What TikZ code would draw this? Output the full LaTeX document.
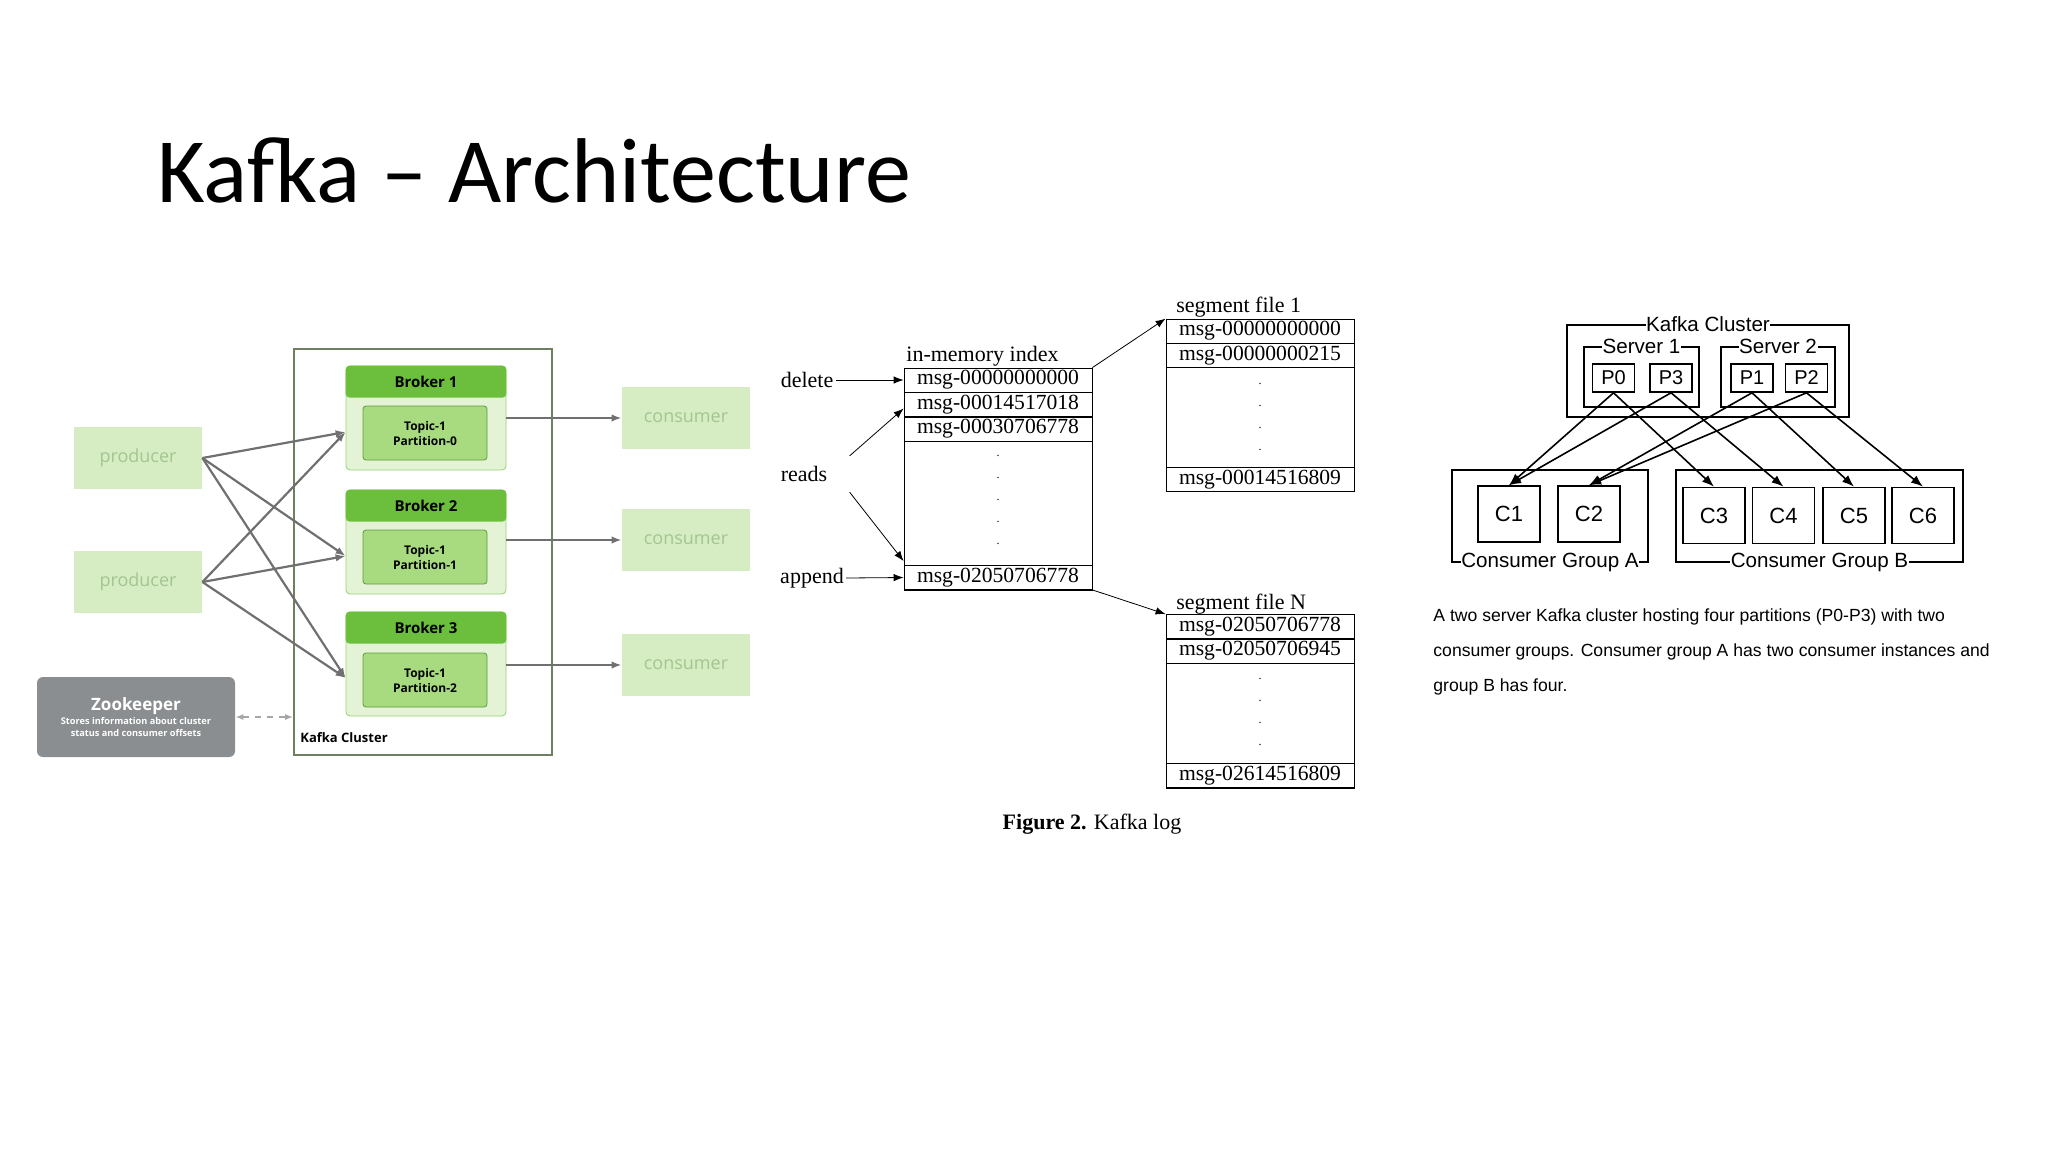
\documentclass[tikz,border=0pt]{standalone}
\usepackage{fontspec}
\setmainfont{Liberation Serif}
\setsansfont{Liberation Sans}
\newfontfamily\titlefont{Carlito}
\newfontfamily\greenfont{Open Sans}
\usepackage{tikz}
\usetikzlibrary{positioning, fit, arrows.meta}

\definecolor{hdgreen}{HTML}{6CBF3C}
\definecolor{bodygreen}{HTML}{E4F3D6}
\definecolor{partgreen}{HTML}{A8DA80}
\definecolor{partedge}{HTML}{5E9C3E}
\definecolor{palegreen}{HTML}{D6EDC4}
\definecolor{paletext}{HTML}{A3C58F}
\definecolor{clusteredge}{HTML}{6E7F62}
\definecolor{zoogray}{HTML}{8B8E90}
\definecolor{linegray}{HTML}{707070}

\begin{document}
\begin{tikzpicture}[
        x=0.5pt, y=-0.5pt,
        every node/.style={inner sep=1pt},
        pale/.style={fill=palegreen, minimum width=64pt, minimum height=31pt, text=paletext, font=\greenfont\fontsize{9}{10}\selectfont},
        broker/.style={draw=hdgreen!70, fill=bodygreen, rounded corners=2pt, minimum width=80pt, minimum height=52pt},
        part/.style={draw=partedge, fill=partgreen, rounded corners=1.5pt, minimum width=62pt, minimum height=27pt, align=center, font=\greenfont\bfseries\fontsize{6}{7.5}\selectfont},
        flow/.style={-{Latex[length=5pt]}, linegray, line width=1.1pt},
        row/.style={draw, minimum width=94pt, minimum height=12pt, font=\fontsize{10.8}{11}\selectfont},
        vdots/.style={font=\fontsize{6}{6}\selectfont, align=center},
        logarrow/.style={-{Latex[length=5pt]}, thin},
        pbox/.style={draw, thick, minimum width=21pt, minimum height=14pt, font=\sffamily\fontsize{10}{11}\selectfont},
        cbox/.style={draw, thick, minimum width=31pt, minimum height=28pt, font=\sffamily\fontsize{11}{12}\selectfont},
        grp/.style={draw, thick},
        grplabel/.style={fill=white, inner sep=0.3pt, font=\sffamily\fontsize{10.3}{11}\selectfont},
        partarrow/.style={-{Latex[length=6pt]}, thick}
    ]
    \path[use as bounding box] (0,0) rectangle (2048,1152);

    % Title -----------------------------------------------
    \node[anchor=base west, inner sep=0, font=\titlefont\fontsize{46}{50}\selectfont] (title) at (157,202) {Kafka \textendash{} Architecture};

    % Left: producers, brokers, consumers -----------------
    \node[draw=clusteredge, thick, minimum width=129pt, minimum height=203pt] (cluster) at (423,552) {};
    \node[anchor=west, font=\greenfont\bfseries\fontsize{6.5}{7}\selectfont] (clusterlbl) at (298,738) {Kafka Cluster};

    \foreach \i/\y in {1/418, 2/542, 3/664} {
        \node[broker] (b\i) at (426,\y) {};
        \fill[hdgreen, rounded corners=2pt] (b\i.north west) rectangle ([yshift=-16pt]b\i.north east);
        \node[font=\greenfont\bfseries\fontsize{7.5}{8}\selectfont] (bh\i) at ([yshift=-8pt]b\i.north) {Broker \i};
    }
    \node[part] (p0) at (425,433) {Topic-1\\Partition-0};
    \node[part] (p1) at (425,557) {Topic-1\\Partition-1};
    \node[part] (p2) at (425,680) {Topic-1\\Partition-2};

    \node[pale] (prod1) at (138,458) {producer};
    \node[pale] (prod2) at (138,582) {producer};
    \node[pale] (cons1) at (686,418) {consumer};
    \node[pale] (cons2) at (686,540) {consumer};
    \node[pale] (cons3) at (686,665) {consumer};

    \node[fill=zoogray, rounded corners=3pt, minimum width=99pt, minimum height=40pt, align=center, text=white,
          font=\greenfont\bfseries\fontsize{4.6}{6}\selectfont] (zoo) at (136,717)
        {{\fontsize{8.5}{10}\selectfont Zookeeper}\\[1pt]Stores information about cluster\\status and consumer offsets};

    \foreach \p in {prod1, prod2}
        \foreach \b in {b1, b2, b3}
            \draw[flow] (\p.east) -- ([yshift=-7pt]\b.west);
    \draw[flow] (b1.east |- cons1.west) -- (cons1.west);
    \draw[flow] (b2.east |- cons2.west) -- (cons2.west);
    \draw[flow] (b3.east |- cons3.west) -- (cons3.west);
    \draw[{Latex[length=4pt]}-{Latex[length=4pt]}, gray!70, dashed, line width=1.1pt] (zoo.east) -- (zoo.east -| cluster.west);

    % Middle: Kafka log -----------------------------------
    \node[draw, minimum width=94pt, minimum height=111pt] (index) at (998,479) {};
    \node[row] (i1) at (998,380) {msg-00000000000};
    \node[row] (i2) at (998,404.5) {msg-00014517018};
    \node[row] (i3) at (998,429) {msg-00030706778};
    \node[row] (i4) at (998,577.5) {msg-02050706778};
    \node[vdots] (idots) at (998,500) {.\\[5pt].\\[5pt].\\[5pt].\\[5pt].};
    \node[anchor=base west, font=\fontsize{11}{12}\selectfont] (indexlbl) at (904,361) {in-memory index};

    \node[draw, minimum width=94pt, minimum height=86pt] (seg1) at (1260,405) {};
    \node[row] (s1a) at (1260,331) {msg-00000000000};
    \node[row] (s1b) at (1260,355.5) {msg-00000000215};
    \node[row] (s1c) at (1260,479.5) {msg-00014516809};
    \node[vdots] (s1dots) at (1260,417) {.\\[5pt].\\[5pt].\\[5pt].};
    \node[anchor=base west, font=\fontsize{11}{12}\selectfont] (seg1lbl) at (1174,312) {segment file 1};

    \node[draw, minimum width=94pt, minimum height=87pt] (segN) at (1260,701) {};
    \node[row] (sNa) at (1260,626.5) {msg-02050706778};
    \node[row] (sNb) at (1260,651) {msg-02050706945};
    \node[row] (sNc) at (1260,775.5) {msg-02614516809};
    \node[vdots] (sNdots) at (1260,712) {.\\[5pt].\\[5pt].\\[5pt].};
    \node[anchor=base west, font=\fontsize{11}{12}\selectfont] (segNlbl) at (1174,609) {segment file N};

    \node[font=\fontsize{11}{12}\selectfont] (delete) at (807,380) {delete};
    \node[font=\fontsize{11}{12}\selectfont] (reads) at (804,474) {reads};
    \node[font=\fontsize{11}{12}\selectfont] (append) at (812,578) {append};
    \draw[logarrow] (delete.east) -- (i1.west);
    \draw[logarrow] (append.east) -- (i4.west);
    \draw[logarrow] ([xshift=10pt,yshift=4pt]reads.north east) -- ([yshift=-2pt]i2.west);
    \draw[logarrow] ([xshift=10pt,yshift=-4pt]reads.south east) -- ([yshift=2pt]i4.north west);
    \draw[logarrow] (i1.north east) -- (s1a.north west);
    \draw[logarrow] (i4.south east) -- (sNa.north west);
    \node[font=\fontsize{11}{12}\selectfont] (figcap) at (1092,824) {\textbf{Figure 2.} Kafka log};

    % Right: consumer groups ------------------------------
    \node[grp, minimum width=141pt, minimum height=46pt] (kc) at (1708,371) {};
    \node[grplabel] at (kc.north) {Kafka Cluster};
    \node[grp, minimum width=57.5pt, minimum height=30pt] (srv1) at (1641.5,377) {};
    \node[grplabel] at (srv1.north) {Server 1};
    \node[grp, minimum width=57pt, minimum height=30pt] (srv2) at (1778,377) {};
    \node[grplabel] at (srv2.north) {Server 2};
    \node[pbox] (P0) at (1613.5,378) {P0};
    \node[pbox] (P3) at (1671,378) {P3};
    \node[pbox] (P1) at (1752,378) {P1};
    \node[pbox] (P2) at (1806.5,378) {P2};

    \node[grp, minimum width=98pt, minimum height=46pt] (ga) at (1550,516) {};
    \node[grplabel] at (ga.south) {Consumer Group A};
    \node[grp, minimum width=143.5pt, minimum height=46pt] (gb) at (1819.5,516) {};
    \node[grplabel] at (gb.south) {Consumer Group B};
    \node[cbox] (C1) at (1509,514) {C1};
    \node[cbox] (C2) at (1589,514) {C2};
    \node[cbox] (C3) at (1714,515.5) {C3};
    \node[cbox] (C4) at (1783.5,515.5) {C4};
    \node[cbox] (C5) at (1854,515.5) {C5};
    \node[cbox] (C6) at (1923,515.5) {C6};

    \draw[partarrow] (P0.south) -- (C1.north);
    \draw[partarrow] (P0.south) -- (C3.north);
    \draw[partarrow] (P3.south) -- (C1.north);
    \draw[partarrow] (P3.south) -- (C4.north);
    \draw[partarrow] (P1.south) -- (C2.north);
    \draw[partarrow] (P1.south) -- (C5.north);
    \draw[partarrow] (P2.south) -- (C2.north);
    \draw[partarrow] (P2.south) -- (C6.north);

    \node[anchor=north west, align=left, font=\sffamily\fontsize{8.8}{17.5}\selectfont] (caption) at (1431,606)
        {A two server Kafka cluster hosting four partitions (P0-P3) with two\\
         consumer groups. Consumer group A has two consumer instances and\\
         group B has four.};
\end{tikzpicture}
\end{document}
